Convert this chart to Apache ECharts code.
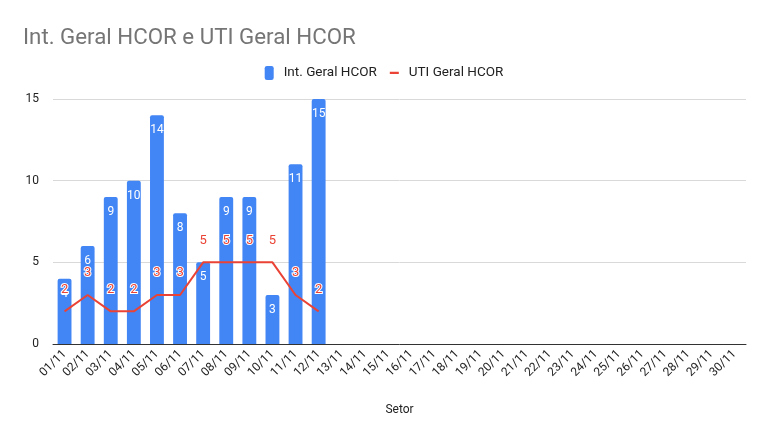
<!DOCTYPE html>
<html><head><meta charset="utf-8">
<script src="https://cdn.jsdelivr.net/npm/echarts@6/dist/echarts.min.js"></script>
<style>html,body{margin:0;padding:0;background:#fff}#c{width:768px;height:435px}</style>
</head><body><div id="c"></div>
<script>
const categories = ["01/11","02/11","03/11","04/11","05/11","06/11","07/11","08/11","09/11","10/11","11/11","12/11","13/11","14/11","15/11","16/11","17/11","18/11","19/11","20/11","21/11","22/11","23/11","24/11","25/11","26/11","27/11","28/11","29/11","30/11"];
const intGeral = [4,6,9,10,14,8,5,9,9,3,11,15];
const utiGeral = [2,3,2,2,3,3,5,5,5,5,3,2];
const yTicks = [0,5,10,15];

const chart = echarts.init(document.getElementById('c'), null, {renderer:'canvas'});
const font = 'Roboto, Arial, sans-serif';
chart.setOption({
  animation:false,
  backgroundColor:'#fff',
  title:{text:'Int. Geral HCOR e UTI Geral HCOR', left:18, top:22,
    textStyle:{fontFamily:font, fontSize:22.3, fontWeight:'normal', color:'#757575'}},
  legend:{top:61, left:'center', itemGap:13, itemWidth:9, itemHeight:14,
    textStyle:{fontFamily:font, fontSize:13.5, color:'#222', padding:[0,0,0,5]},
    data:[
      {name:'Int. Geral HCOR', icon:'roundRect'},
      {name:'UTI Geral HCOR', icon:'path://M0,5.5h12v3h-12z M0,0h0.01v0.01h-0.01z M0,14h0.01v0.01h-0.01z',
        itemStyle:{color:'#ea4335', opacity:1}}
    ]},
  grid:{left:53, right:22, top:99, bottom:91, containLabel:false},
  xAxis:{type:'category', data:categories, name:'Setor', nameLocation:'middle', nameGap:60,
    nameTextStyle:{fontFamily:font, fontSize:12, color:'#222'},
    axisLine:{lineStyle:{color:'#333', width:1}}, axisTick:{show:false},
    axisLabel:{rotate:45, interval:0, fontFamily:font, fontSize:12, color:'#222', margin:8}},
  yAxis:{type:'value', min:0, max:15, interval:5,
    axisLabel:{fontFamily:font, fontSize:12, color:'#222', margin:14,
      formatter:v=>yTicks.includes(v)?String(v):''},
    axisLine:{show:false}, axisTick:{show:false},
    splitLine:{lineStyle:{color:'#d9d9d9'}}},
  series:[
    {name:'Int. Geral HCOR', type:'bar', data:intGeral, barWidth:'60%',
      itemStyle:{color:'#4285f4', borderRadius:[2,2,0,0]},
      label:{show:true, position:'insideTop', distance:9, color:'#fff', fontFamily:font, fontSize:12}},
    {name:'UTI Geral HCOR', type:'line', data:utiGeral,
      symbol:'circle', symbolSize:1, showSymbol:true,
      lineStyle:{color:'#ea4335', width:2}, itemStyle:{color:'rgba(234,67,53,0)'},
      label:{show:true, position:'top', distance:15, color:'#ea4335', fontFamily:font, fontSize:13,
        textBorderColor:'#fff', textBorderWidth:2}}
  ]
});
</script></body></html>
